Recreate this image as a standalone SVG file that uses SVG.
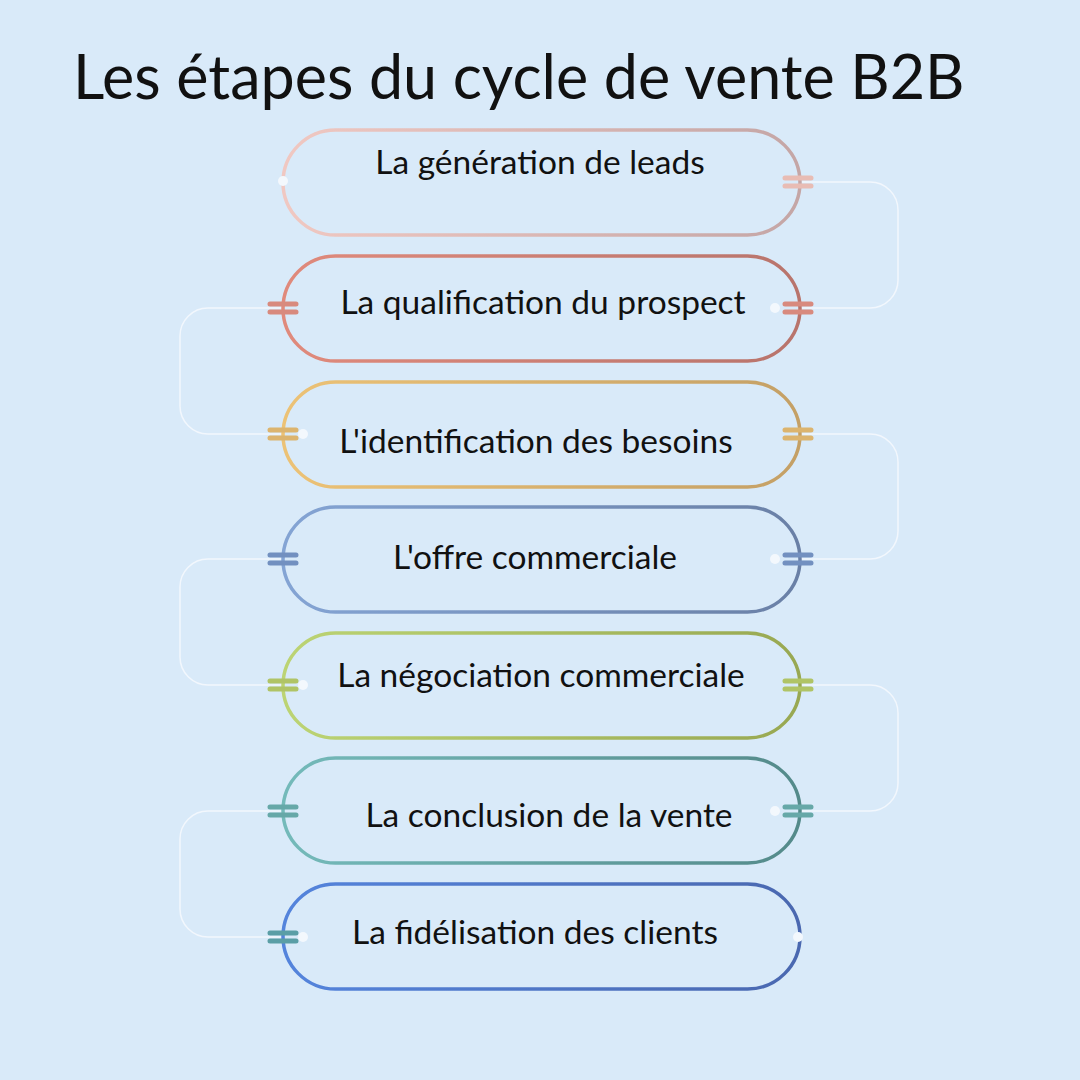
<svg xmlns="http://www.w3.org/2000/svg" width="1080" height="1080" viewBox="0 0 1080 1080">
<defs>
<linearGradient id="g1"><stop offset="0" stop-color="#f0c8c2"/><stop offset="1" stop-color="#c4a6a6"/></linearGradient>
<linearGradient id="g2"><stop offset="0" stop-color="#e08a7c"/><stop offset="1" stop-color="#b8746c"/></linearGradient>
<linearGradient id="g3"><stop offset="0" stop-color="#ecc276"/><stop offset="1" stop-color="#c4a066"/></linearGradient>
<linearGradient id="g4"><stop offset="0" stop-color="#84a4d4"/><stop offset="1" stop-color="#6a80a6"/></linearGradient>
<linearGradient id="g5"><stop offset="0" stop-color="#bcd474"/><stop offset="1" stop-color="#98a852"/></linearGradient>
<linearGradient id="g6"><stop offset="0" stop-color="#74baba"/><stop offset="1" stop-color="#548a8a"/></linearGradient>
<linearGradient id="g7"><stop offset="0" stop-color="#5484dc"/><stop offset="1" stop-color="#4a68b0"/></linearGradient>
</defs>
<style>
.p{fill:none;stroke-width:3.5}
.t{font-family:Lato,"Open Sans",sans-serif;font-size:33.5px;fill:#111}
.c{fill:none;stroke:#f2f7fd;stroke-width:1.5}
.d{fill:#f3f8fd}
.b{stroke-width:5;stroke-linecap:round}
</style>
<rect width="1080" height="1080" fill="#d9eaf9"/>
<text x="73" y="99" font-family="Lato,'Open Sans',sans-serif" font-size="61" fill="#111">Les étapes du cycle de vente B2B</text>
<g id="connectors">
<path class="c" d="M800 182H870A28 28 0 0 1 898 210V280A28 28 0 0 1 870 308H800"/>
<path class="c" d="M283 308H208A28 28 0 0 0 180 336V406A28 28 0 0 0 208 434H283"/>
<path class="c" d="M800 434H870A28 28 0 0 1 898 462V531A28 28 0 0 1 870 559H800"/>
<path class="c" d="M283 559H208A28 28 0 0 0 180 587V657A28 28 0 0 0 208 685H283"/>
<path class="c" d="M800 685H870A28 28 0 0 1 898 713V783A28 28 0 0 1 870 811H800"/>
<path class="c" d="M283 811H208A28 28 0 0 0 180 839V909A28 28 0 0 0 208 937H283"/>
</g>
<g id="n1"><rect class="p" x="283" y="130" width="517" height="105" rx="52.5" stroke="url(#g1)"/>
<path class="b" stroke="#e8bcb4" d="M785 178H811M785 186H811"/><circle class="d" cx="283" cy="181" r="5"/>
<text class="t" x="540" y="174" text-anchor="middle">La génération de leads</text></g>
<g id="n2"><rect class="p" x="283" y="256" width="517" height="105" rx="52.5" stroke="url(#g2)"/>
<path class="b" stroke="#d88a7e" d="M270 304H296M270 312H296M785 304H811M785 312H811"/><circle class="d" cx="775" cy="308" r="5"/>
<text class="t" x="543" y="314" text-anchor="middle">La qualification du prospect</text></g>
<g id="n3"><rect class="p" x="283" y="382" width="517" height="105" rx="52.5" stroke="url(#g3)"/>
<path class="b" stroke="#dcb46e" d="M270 430H296M270 438H296M785 430H811M785 438H811"/><circle class="d" cx="303" cy="434" r="5"/>
<text class="t" x="536" y="453" text-anchor="middle">L'identification des besoins</text></g>
<g id="n4"><rect class="p" x="283" y="507" width="517" height="105" rx="52.5" stroke="url(#g4)"/>
<path class="b" stroke="#7290c0" d="M270 555H296M270 563H296M785 555H811M785 563H811"/><circle class="d" cx="775" cy="559" r="5"/>
<text class="t" x="535" y="569" text-anchor="middle">L'offre commerciale</text></g>
<g id="n5"><rect class="p" x="283" y="633" width="517" height="105" rx="52.5" stroke="url(#g5)"/>
<path class="b" stroke="#b0c466" d="M270 681H296M270 689H296M785 681H811M785 689H811"/><circle class="d" cx="303" cy="685" r="5"/>
<text class="t" x="541" y="687" text-anchor="middle">La négociation commerciale</text></g>
<g id="n6"><rect class="p" x="283" y="758" width="517" height="105" rx="52.5" stroke="url(#g6)"/>
<path class="b" stroke="#66a8a8" d="M270 807H296M270 815H296M785 807H811M785 815H811"/><circle class="d" cx="775" cy="811" r="5"/>
<text class="t" x="549" y="827" text-anchor="middle">La conclusion de la vente</text></g>
<g id="n7"><rect class="p" x="283" y="884" width="517" height="105" rx="52.5" stroke="url(#g7)"/>
<path class="b" stroke="#5a9ea6" d="M270 933H296M270 941H296"/><circle class="d" cx="303" cy="937" r="5"/><circle class="d" cx="798" cy="937" r="5"/>
<text class="t" x="535" y="944" text-anchor="middle">La fidélisation des clients</text></g>
</svg>
